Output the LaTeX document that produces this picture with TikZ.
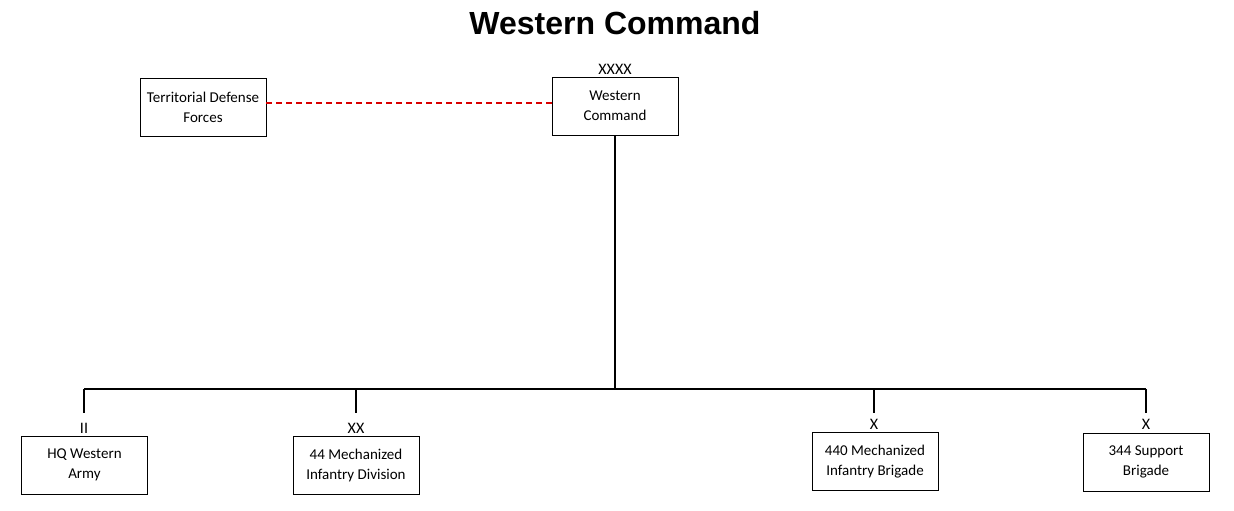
\documentclass[tikz,border=0pt]{standalone}
\usepackage{fontspec}
\setmainfont{Carlito}
\newfontfamily\titlefont{Liberation Sans}
\begin{document}
\begin{tikzpicture}[x=1pt,y=-1pt,
  box/.style={draw,thick,minimum width=126pt,minimum height=58pt,align=center,font=\fontsize{15}{20}\selectfont,inner sep=0pt},
  ech/.style={font=\fontsize{16}{16}\selectfont,inner sep=0pt},
  ln/.style={line width=1.4pt}]
\useasboundingbox (0,0) rectangle (1234,511);
\node[font=\titlefont\bfseries\fontsize{32}{32}\selectfont] (title) at (615,23) {Western Command};
\node[box] (wc) at (615,106) {Western\\Command};
\node[ech] (wce) at (615,69) {XXXX};
\node[box] (tdf) at (203,107) {Territorial Defense\\Forces};
\draw[red!85!black,dashed,line width=1.6pt,dash pattern=on 6pt off 4pt] (tdf.east|-0,103) -- (wc.west|-0,103);
\node[box] (hq) at (84.5,465) {HQ Western\\Army};
\node[box] (d44) at (356,465) {44 Mechanized\\Infantry Division};
\node[box] (b440) at (875,461.5) {440 Mechanized\\Infantry Brigade};
\node[box] (b344) at (1146,462) {344 Support\\Brigade};
\node[ech] (e1) at (84,428) {II};
\node[ech] (e2) at (356,428) {XX};
\node[ech] (e3) at (874,424) {X};
\node[ech] (e4) at (1146,424) {X};
\coordinate (j) at (615,389);
\coordinate (l) at (84,389);
\coordinate (r) at (1146,389);
\draw[ln] (wc.south) -- (j);
\draw[ln] (l) -- (r);
\draw[ln] (l) -- (84,413);
\draw[ln] (356,389) -- (356,413);
\draw[ln] (874,389) -- (874,413);
\draw[ln] (1146,389) -- (1146,413);
\end{tikzpicture}
\end{document}
